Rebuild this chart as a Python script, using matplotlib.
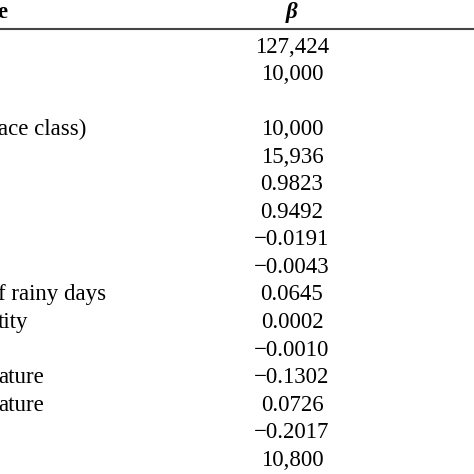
import matplotlib
matplotlib.use("Agg")
import matplotlib.pyplot as plt

labels = ["", "", "", "ace class)", "", "", "", "", "", "f rainy days", "tity", "", "ature", "ature", "", ""]
betas = ["127,424", "10,000", "", "10,000", "15,936", "0.9823", "0.9492", "\u22120.0191", "\u22120.0043",
         "0.0645", "0.0002", "\u22120.0010", "\u22120.1302", "0.0726", "\u22120.2017", "10,800"]

fig = plt.figure(figsize=(4.74, 4.74), dpi=100)
ax = fig.add_axes([0, 0, 1, 1])
ax.set_xlim(0, 474); ax.set_ylim(474, 0); ax.axis("off")
fam = ["Liberation Serif", "DejaVu Serif"]
fs = 16.5
ax.text(-3, 12, "e", fontsize=fs, fontweight="bold", family=fam, va="center", ha="left")
ax.text(292, 12, "\u03b2", fontsize=fs, fontweight="bold", fontstyle="italic", family=fam, va="center", ha="center")
ax.plot([0, 474], [29, 29], color="#444444", lw=1.5)
y0, dy = 47, 27.55
for i, (l, b) in enumerate(zip(labels, betas)):
    y = y0 + i * dy
    if l:
        ax.text(-2, y, l, fontsize=fs, family=fam, va="center", ha="left")
    if b:
        ax.text(292, y, b, fontsize=fs, family=fam, va="center", ha="center")
fig.savefig("out.png", dpi=100)
